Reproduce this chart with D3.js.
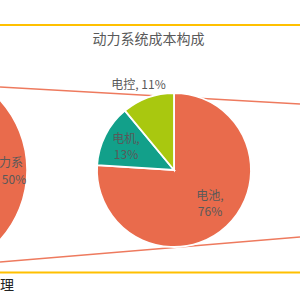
<!DOCTYPE html>
<html>
<head>
<meta charset="utf-8">
<script src="https://cdn.jsdelivr.net/npm/d3@7"></script>
<style>
  body { margin: 0; background: #fff; }
  svg { display: block; font-family: "Noto Sans CJK SC", "Noto Sans", sans-serif; }
</style>
</head>
<body>
<div id="chart"></div>
<script>
'use strict';

// data
var title = "动力系统成本构成";
var mainLabels = ["动力系统", "其他"];
var mainValues = [50, 50];
var subLabels = ["电池", "电机", "电控"];
var subValues = [76, 13, 11];
var footText = "理";

// constants
var width = 300,
    height = 300,
    grey = "#595959",
    colors = {"电池": "#e96b4c", "电机": "#12a08a", "电控": "#a9c80f", "动力系统": "#e96b4c", "其他": "#f4b183"};

var svg = d3.select("#chart").append("svg")
    .attr("width", width)
    .attr("height", height);

// gold rules, top and bottom
svg.selectAll("line.rule")
    .data([25, 272.5])
    .enter().append("line")
    .attr("class", "rule")
    .attr("x1", 0).attr("x2", width)
    .attr("y1", function(d) { return d; })
    .attr("y2", function(d) { return d; })
    .style("stroke", "#ffc000")
    .style("stroke-width", 2.2);

// title
svg.append("text")
    .attr("x", 148.5)
    .attr("y", 44)
    .style("text-anchor", "middle")
    .style("font-size", "14px")
    .style("fill", grey)
    .text(title);

var pie = d3.pie().sort(null).value(function(d) { return d.value; });

// main pie, mostly off the left edge
var main = {cx: -77, cy: 170, r: 104};
var mainData = pie(mainLabels.map(function(l, i) { return {label: l, value: mainValues[i]}; }));
var mainArc = d3.arc().innerRadius(0).outerRadius(main.r);
var gMain = svg.append("g").attr("transform", "translate(" + main.cx + "," + main.cy + ")");
gMain.selectAll("path")
    .data(mainData)
    .enter().append("path")
    .attr("d", mainArc)
    .style("fill", function(d) { return colors[d.data.label]; })
    .style("stroke", "#fff")
    .style("stroke-width", 1.5);

// secondary pie
var sub = {cx: 174, cy: 170, r: 77};
var subData = pie(subLabels.map(function(l, i) { return {label: l, value: subValues[i]}; }));
var subArc = d3.arc().innerRadius(0).outerRadius(sub.r);
var gSub = svg.append("g").attr("transform", "translate(" + sub.cx + "," + sub.cy + ")");

// connector lines (drawn below the pie)
var connectors = [
    {x1: 0, y1: 87, x2: width, y2: 104},
    {x1: 0, y1: 262, x2: width, y2: 237}
];
svg.insert("g", "g")
    .selectAll("line")
    .data(connectors)
    .enter().append("line")
    .attr("x1", function(d) { return d.x1; })
    .attr("y1", function(d) { return d.y1; })
    .attr("x2", function(d) { return d.x2; })
    .attr("y2", function(d) { return d.y2; })
    .style("stroke", "#ee7a5e")
    .style("stroke-width", 1.3);

gSub.selectAll("path")
    .data(subData)
    .enter().append("path")
    .attr("d", subArc)
    .style("fill", function(d) { return colors[d.data.label]; })
    .style("stroke", "#fff")
    .style("stroke-width", 1.8);

// labels: offsets from each pie's centre
var labelPos = {
    "电池": {x: 36, y: 30, lines: true},
    "电机": {x: -48, y: -27, lines: true},
    "电控": {x: -35.5, y: -81, lines: false},
    "动力系统": {x: 82, y: -3, lines: true}
};

function addLabel(g, d) {
    var p = labelPos[d.data.label];
    if (!p) return;
    var t = g.append("text")
        .attr("transform", "translate(" + p.x + "," + p.y + ")")
        .style("text-anchor", "middle")
        .style("font-size", "12px")
        .style("fill", grey);
    var pct = d.data.value + "%";
    if (!p.lines) {
        t.text(d.data.label + ", " + pct);
    } else if (d.data.label === "动力系统") {
        t.append("tspan").attr("x", 0).attr("dy", 0).text("动力系");
        t.append("tspan").attr("x", 0).attr("dy", 17).text("统, " + pct);
    } else {
        t.append("tspan").attr("x", 0).attr("dy", 0).text(d.data.label + ",");
        t.append("tspan").attr("x", 0).attr("dy", 16).text(pct);
    }
}

subData.forEach(function(d) { addLabel(gSub, d); });
mainData.forEach(function(d) { addLabel(gMain, d); });

// footer fragment
svg.append("text")
    .attr("x", 0)
    .attr("y", 290)
    .style("font-size", "14px")
    .style("fill", "#222")
    .text(footText);
</script>
</body>
</html>
